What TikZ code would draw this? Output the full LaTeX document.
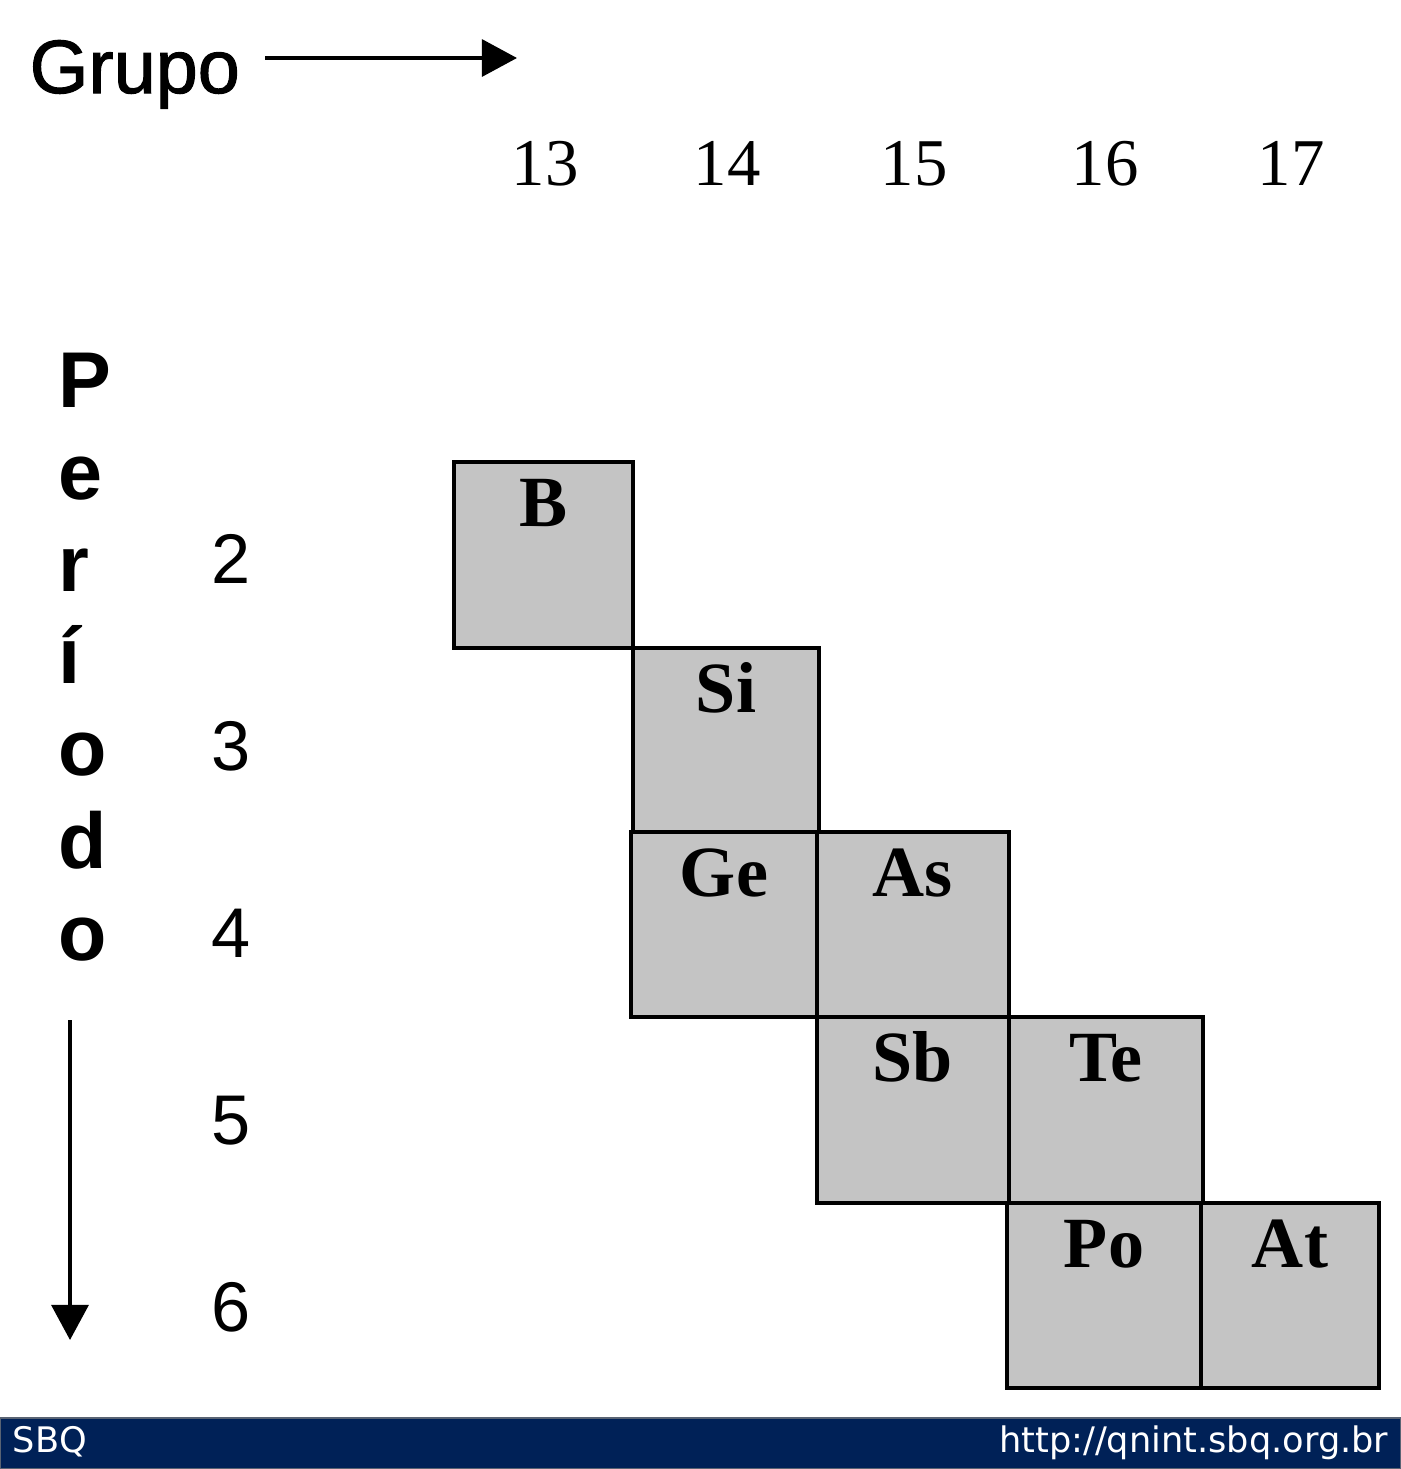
\documentclass[tikz,border=0pt]{standalone}
\usepackage{fontspec}
\setmainfont{Liberation Serif}
\newfontfamily\arialf{Liberation Sans}
\newfontfamily\arialheavy[FakeBold=1.4]{Liberation Sans}
\newfontfamily\footf{DejaVu Sans}
\usetikzlibrary{arrows.meta,positioning}
\definecolor{cellgray}{RGB}{196,196,196}
\definecolor{sbqblue}{RGB}{0,33,87}
\tikzset{
    cell/.style={draw, fill=cellgray, line width=1.3pt, outer sep=0pt, inner sep=0pt, anchor=north west},
    elem/.style={font=\fontsize{20.5}{22}\selectfont\bfseries, anchor=base, inner sep=0pt},
    dirarrow/.style={line width=1.1pt, -{Triangle[length=10pt, width=10.5pt]}}
}

\begin{document}
\begin{tikzpicture}[x=0.01cm, y=-0.01cm]
    \useasboundingbox (0,0) rectangle (1401,1469);
    % groups
    \node[font=\arialheavy\fontsize{21.5}{24}\selectfont, anchor=base west, inner sep=0pt] (grupo) at (29,93) {Grupo};
    \coordinate (gstart) at (265,58);
    \coordinate (gend) at (517,58);
    \draw[dirarrow] (gstart) -- (gend);
    \foreach \g/\x in {13/545, 14/727, 15/914, 16/1105, 17/1291}
        \node[font=\fontsize{19}{21}\selectfont, anchor=base, inner sep=0pt] (g\g) at (\x,185) {\g};
    % periods
    \foreach \c [count=\i from 0] in {P,e,r,í,o,d,o}
        \node[font=\arialf\bfseries\fontsize{22.5}{24}\selectfont, anchor=base west, inner sep=0pt] (per\i) at (58,407+92.2*\i) {\c};
    \coordinate (pstart) at (70,1020);
    \coordinate (pend) at (70,1340);
    \draw[dirarrow] (pstart) -- (pend);
    \foreach \p [count=\i from 0] in {2,...,6}
        \node[font=\arialf\fontsize{20}{22}\selectfont, anchor=base, inner sep=0pt] (p\p) at (231,583+187*\i) {\p};
    % semimetal cells
    \foreach \el/\xa/\xb/\ya/\yb in {B/454/633/462/648, Si/633/819/648/832, Ge/631/817/832/1017,
        As/817/1009/832/1017, Sb/817/1009/1017/1203, Te/1009/1203/1017/1203,
        Po/1007/1201/1203/1388, At/1201/1379/1203/1388}{
        \node[cell, minimum width={(\xb-\xa)*0.01cm}, minimum height={(\yb-\ya)*0.01cm}] (\el) at (\xa,\ya) {};
        \node[elem] (l\el) at ([yshift=-18.2pt]\el.north) {\el};
    }
    % footer
    \fill[sbqblue] (0,1418) rectangle (1401,1469);
    \draw[gray!70!sbqblue, line width=0.6pt] (0,1418) rectangle (1401,1469);
    \node[font=\footf\fontsize{10}{12}\selectfont, text=white, anchor=base west, inner sep=0pt] (sbq) at (12,1452) {SBQ};
    \node[font=\footf\fontsize{10}{12}\selectfont, text=white, anchor=base east, inner sep=0pt] (url) at (1389,1452) {http://qnint.sbq.org.br};
\end{tikzpicture}
\end{document}
